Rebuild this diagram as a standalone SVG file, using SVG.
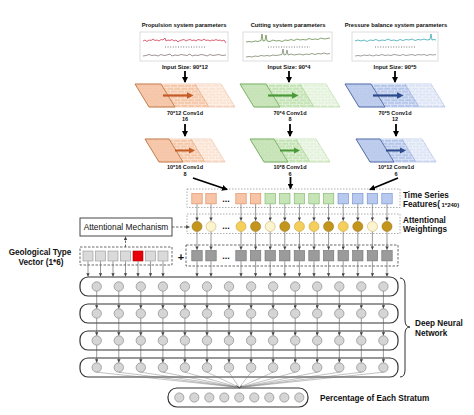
<svg xmlns="http://www.w3.org/2000/svg" width="474" height="415" viewBox="0 0 474 415">
<style>
text{font-family:"Liberation Sans",Arial,sans-serif;fill:#111}
.t1{font-size:5.8px;font-weight:bold;text-anchor:middle}
.t2{font-size:5.5px;font-weight:bold;text-anchor:middle}
.lb{font-size:8.2px;font-weight:bold}
.am{font-size:8.4px;text-anchor:middle}
.panel{fill:#fff;stroke:#d4d4d4;stroke-width:0.8}
.dots{stroke:#555;stroke-width:0.8;stroke-dasharray:1 1.6}
.wave{fill:none;stroke-width:0.8;stroke-linejoin:round}
.blk{stroke-width:2.6;fill:none}
.thin{stroke:#555;stroke-width:0.6;fill:none;marker-end:url(#a)}
.conv{stroke:#777;stroke-width:0.55;fill:none}
.sqo{fill:#f7c4a6;stroke:#d9895c;stroke-width:0.6}
.sqg{fill:#c7e4b6;stroke:#7cb466;stroke-width:0.6}
.sqb{fill:#b7c9ee;stroke:#6d8ac6;stroke-width:0.6}
.sqd{fill:#9b9b9b;stroke:#6f6f6f;stroke-width:0.6}
.sql{fill:#dadada;stroke:#959595;stroke-width:0.6}
.cd{fill:#c4951c;stroke:#9a7414;stroke-width:0.6}
.cy{fill:#f4cf5c;stroke:#c9a232;stroke-width:0.6}
.cc{fill:#fcf3cf;stroke:#c9b474;stroke-width:0.6}
.nn{fill:#d5d5d5;stroke:#8a8a8a;stroke-width:0.7}
.layer{fill:#fff;stroke:#333;stroke-width:1.2}
.dbox{fill:none;stroke:#999;stroke-width:0.8;stroke-dasharray:1.5 1.5}
.dash{fill:none;stroke:#444;stroke-width:0.8;stroke-dasharray:2.5 1.5}
</style>
<defs>
<marker id="a" markerWidth="3.4" markerHeight="3.4" refX="3.4" refY="1.7" orient="auto" markerUnits="userSpaceOnUse"><path d="M0,0L3.4,1.7L0,3.4z" fill="#444"/></marker>
<marker id="b" markerWidth="6" markerHeight="6" refX="5" refY="3" orient="auto" markerUnits="userSpaceOnUse"><path d="M0,0L6,3L0,6z" fill="#000"/></marker>
<pattern id="br" width="7" height="5.75" patternUnits="userSpaceOnUse"><path d="M0,0.3H7M0,3.2H7M0.3,0.3V3.2M3.8,3.2V5.75" stroke="#fff" stroke-width="0.6" fill="none" opacity="0.85"/></pattern>
</defs>
<rect width="474" height="415" fill="#fff"/>

<!-- input panels -->
<g id="propulsion">
<text class="t1" x="184" y="27">Propulsion system parameters</text>
<rect class="panel" x="140" y="32" width="88" height="29"/>
<path class="wave" stroke="#d23a52" d="M143,41 L145,40 L147,41.5 L149,40 L151,40.5 L153,39 L155,40.5 L157,40 L159,41 L161,39.5 L163,40 L165,38 L166,41 L168,40 L170,40.5 L172,39.5 L174,41 L176,40 L178,42 L180,40.5 L182,40 L184,39.5 L186,41 L188,40 L190,39.5 L192,40.5 L194,40 L196,41 L198,39.5 L200,40 L202,40.5 L204,39 L206,40.5 L208,40 L210,41 L212,40 L214,40.5 L216,39.5 L218,40.5 L220,40 L222,41 L224,40 L226,43"/>
<line class="dots" x1="165" y1="47" x2="205" y2="47"/>
<path class="wave" stroke="#8a7878" d="M143,56 L146,55.5 L149,54.5 L152,55.5 L155,55 L158,56 L161,54.5 L164,55.5 L167,55 L170,54 L172,56 L175,55 L178,55.5 L181,54.5 L184,55 L187,55.5 L190,54 L192,56 L195,55 L198,55.5 L201,54.5 L204,55 L207,56 L210,54.5 L213,55.5 L216,55 L219,54.5 L222,55.5 L226,55"/>
<text class="t1" x="185" y="68.7">Input Size: 90*12</text>
</g>
<g id="cutting">
<text class="t1" x="288" y="27">Cutting system parameters</text>
<rect class="panel" x="243" y="32" width="89" height="29"/>
<path class="wave" stroke="#6b8e4e" d="M246,42 L249,41.5 L252,42 L255,41 L258,41.5 L261,40.5 L262,34 L263,41 L265,40.5 L266,35 L267,41 L270,41.5 L273,40 L276,41 L279,40.5 L282,41.5 L285,40 L288,40.5 L291,39.5 L294,40.5 L297,39 L300,40 L303,39.5 L306,40 L309,38.5 L312,39.5 L315,39 L318,39.5 L321,38 L324,39 L327,38.5 L330,38"/>
<line class="dots" x1="268" y1="47" x2="310" y2="47"/>
<path class="wave" stroke="#7d8a6e" d="M246,57 L249,56.5 L252,57 L255,56 L258,56.5 L261,55.5 L264,56 L267,55.5 L270,56 L273,55 L276,55.5 L279,55 L282,54.5 L283,49 L284,55 L286,54.5 L287,50 L288,55 L291,54 L294,55 L297,54.5 L300,54 L303,55 L306,54 L309,54.5 L312,53.5 L315,54.5 L318,53.5 L321,54 L324,53 L327,54 L330,53.5"/>
<text class="t1" x="289" y="68.7">Input Size: 90*4</text>
</g>
<g id="pressure">
<text class="t1" x="396" y="27">Pressure balance system parameters</text>
<rect class="panel" x="352" y="32" width="86" height="29"/>
<path class="wave" stroke="#3aa8b4" d="M355,41 L358,40 L361,41 L364,40 L367,41.5 L370,40 L373,40.5 L376,39.5 L379,41 L382,40 L385,40.5 L388,39 L391,40.5 L394,40 L397,41 L400,39.5 L403,40.5 L406,39.5 L409,40 L412,39 L415,40.5 L418,39.5 L421,40 L424,39 L427,40 L430,39.5 L431,34 L432,40 L434,39.5 L436,40"/>
<line class="dots" x1="375" y1="47" x2="415" y2="47"/>
<path class="wave" stroke="#8a8a8a" d="M355,56 L358,55.5 L361,56 L364,55 L367,55.5 L370,55 L373,56 L376,55 L379,55.5 L382,54.5 L385,55.5 L388,55 L391,55.5 L394,54.5 L397,55 L400,55.5 L403,54.5 L406,55.5 L409,55 L412,54.5 L415,55.5 L418,54.5 L421,55 L424,54.5 L427,55.5 L430,54.5 L433,55 L436,54.5"/>
<text class="t1" x="395" y="68.7">Input Size: 90*5</text>
</g>

<!-- conv blocks row 1 -->
<g id="conv-o1" transform="translate(135,84)">
<polygon points="0,0 86,0 100,23 14,23" fill="#fbe3d2" stroke="#e7b494" stroke-width="0.6"/>
<polygon points="26,0 60,0 74,23 40,23" fill="#f5c6a6"/>
<polygon points="0,0 86,0 100,23 14,23" fill="url(#br)"/>
<polygon points="0,0 26,0 40,23 14,23" fill="#f1b088" fill-opacity="0.6" stroke="#b9703f" stroke-width="0.8"/>
<line x1="60" y1="0" x2="74" y2="23" stroke="#e0a07a" stroke-width="0.6"/>
<line x1="28" y1="11.5" x2="52" y2="11.5" stroke="#c55c26" stroke-width="2.2"/>
<polygon points="52,8.3 58.5,11.5 52,14.7" fill="#c55c26"/>
</g>
<g id="conv-g1" transform="translate(240,84)">
<polygon points="0,0 86,0 100,23 14,23" fill="#e3f2da" stroke="#a9d196" stroke-width="0.6"/>
<polygon points="26,0 60,0 74,23 40,23" fill="#c4e3b4"/>
<polygon points="0,0 86,0 100,23 14,23" fill="url(#br)"/>
<polygon points="0,0 26,0 40,23 14,23" fill="#b2d99f" fill-opacity="0.6" stroke="#6ea85a" stroke-width="0.8"/>
<line x1="60" y1="0" x2="74" y2="23" stroke="#9ccb86" stroke-width="0.6"/>
<line x1="28" y1="11.5" x2="52" y2="11.5" stroke="#4a9a38" stroke-width="2.2"/>
<polygon points="52,8.3 58.5,11.5 52,14.7" fill="#4a9a38"/>
</g>
<g id="conv-b1" transform="translate(345,84)">
<polygon points="0,0 86,0 100,23 14,23" fill="#dde5f5" stroke="#9fb2de" stroke-width="0.6"/>
<polygon points="26,0 60,0 74,23 40,23" fill="#b4c5ea"/>
<polygon points="0,0 86,0 100,23 14,23" fill="url(#br)"/>
<polygon points="0,0 26,0 40,23 14,23" fill="#a3b8e4" fill-opacity="0.6" stroke="#3f5a9c" stroke-width="0.8"/>
<line x1="60" y1="0" x2="74" y2="23" stroke="#8ea3d6" stroke-width="0.6"/>
<line x1="28" y1="11.5" x2="52" y2="11.5" stroke="#2d4a8c" stroke-width="2.2"/>
<polygon points="52,8.3 58.5,11.5 52,14.7" fill="#2d4a8c"/>
</g>
<g id="conv-labels1">
<text class="t2" x="185" y="115">70*12 Conv1d</text><text class="t2" x="185" y="121">16</text>
<text class="t2" x="290" y="115">70*4 Conv1d</text><text class="t2" x="290" y="121">8</text>
<text class="t2" x="395" y="115">70*5 Conv1d</text><text class="t2" x="395" y="121">12</text>
</g>

<!-- conv blocks row 2 -->
<g id="conv-o2" transform="translate(145,139)">
<polygon points="0,0 66,0 80,23 14,23" fill="#fbe3d2" stroke="#e7b494" stroke-width="0.6"/>
<polygon points="24,0 46,0 60,23 38,23" fill="#f5c6a6"/>
<polygon points="0,0 66,0 80,23 14,23" fill="url(#br)"/>
<polygon points="0,0 24,0 38,23 14,23" fill="#f1b088" fill-opacity="0.6" stroke="#b9703f" stroke-width="0.8"/>
<line x1="46" y1="0" x2="60" y2="23" stroke="#e0a07a" stroke-width="0.6"/>
<line x1="30" y1="11.5" x2="44" y2="11.5" stroke="#c55c26" stroke-width="2"/>
<polygon points="44,8.5 50,11.5 44,14.5" fill="#c55c26"/>
</g>
<g id="conv-g2" transform="translate(250,139)">
<polygon points="0,0 66,0 80,23 14,23" fill="#e3f2da" stroke="#a9d196" stroke-width="0.6"/>
<polygon points="24,0 46,0 60,23 38,23" fill="#c4e3b4"/>
<polygon points="0,0 66,0 80,23 14,23" fill="url(#br)"/>
<polygon points="0,0 24,0 38,23 14,23" fill="#b2d99f" fill-opacity="0.6" stroke="#6ea85a" stroke-width="0.8"/>
<line x1="46" y1="0" x2="60" y2="23" stroke="#9ccb86" stroke-width="0.6"/>
<line x1="30" y1="11.5" x2="44" y2="11.5" stroke="#4a9a38" stroke-width="2"/>
<polygon points="44,8.5 50,11.5 44,14.5" fill="#4a9a38"/>
</g>
<g id="conv-b2" transform="translate(356,139)">
<polygon points="0,0 66,0 80,23 14,23" fill="#dde5f5" stroke="#9fb2de" stroke-width="0.6"/>
<polygon points="24,0 46,0 60,23 38,23" fill="#b4c5ea"/>
<polygon points="0,0 66,0 80,23 14,23" fill="url(#br)"/>
<polygon points="0,0 24,0 38,23 14,23" fill="#a3b8e4" fill-opacity="0.6" stroke="#3f5a9c" stroke-width="0.8"/>
<line x1="46" y1="0" x2="60" y2="23" stroke="#8ea3d6" stroke-width="0.6"/>
<line x1="30" y1="11.5" x2="44" y2="11.5" stroke="#2d4a8c" stroke-width="2"/>
<polygon points="44,8.5 50,11.5 44,14.5" fill="#2d4a8c"/>
</g>
<g id="conv-labels2">
<text class="t2" x="185" y="168.5">10*16 Conv1d</text><text class="t2" x="185" y="176">8</text>
<text class="t2" x="290" y="168.5">10*8 Conv1d</text><text class="t2" x="290" y="176">6</text>
<text class="t2" x="396" y="168.5">10*12 Conv1d</text><text class="t2" x="396" y="176">6</text>
</g>

<!-- time series features -->
<g id="features">
<rect class="dbox" x="187" y="189" width="213" height="18.5"/>
<rect class="sqo" x="191.8" y="193.5" width="10.4" height="10.4"/>
<rect class="sqo" x="205.8" y="193.5" width="10.4" height="10.4"/>
<text x="226" y="202" font-size="9" font-weight="bold" text-anchor="middle">...</text>
<rect class="sqo" x="235.8" y="193.5" width="10.4" height="10.4"/>
<rect class="sqo" x="250.4" y="193.5" width="10.4" height="10.4"/>
<rect class="sqg" x="265" y="193.5" width="10.4" height="10.4"/>
<rect class="sqg" x="279.6" y="193.5" width="10.4" height="10.4"/>
<rect class="sqg" x="294.2" y="193.5" width="10.4" height="10.4"/>
<rect class="sqg" x="308.8" y="193.5" width="10.4" height="10.4"/>
<rect class="sqg" x="323.4" y="193.5" width="10.4" height="10.4"/>
<rect class="sqb" x="338" y="193.5" width="10.4" height="10.4"/>
<rect class="sqb" x="352.6" y="193.5" width="10.4" height="10.4"/>
<rect class="sqb" x="367.2" y="193.5" width="10.4" height="10.4"/>
<rect class="sqb" x="381.8" y="193.5" width="10.4" height="10.4"/>
<text class="lb" x="403" y="198">Time Series</text>
<text class="lb" x="403" y="206.5">Features(<tspan font-size="6"> 1*240)</tspan></text>
</g>

<!-- attentional weightings -->
<g id="weightings">
<rect class="dbox" x="187" y="214" width="213" height="19.5"/>
<circle class="cd" cx="197" cy="226.5" r="5"/>
<circle class="cc" cx="211" cy="226.5" r="5"/>
<text x="226" y="229" font-size="9" font-weight="bold" text-anchor="middle">...</text>
<circle class="cy" cx="241" cy="226.5" r="5"/>
<circle class="cd" cx="255.6" cy="226.5" r="5"/>
<circle class="cc" cx="270.2" cy="226.5" r="5"/>
<circle class="cd" cx="284.8" cy="226.5" r="5"/>
<circle class="cy" cx="299.4" cy="226.5" r="5"/>
<circle class="cy" cx="314" cy="226.5" r="5"/>
<circle class="cd" cx="328.6" cy="226.5" r="5"/>
<circle class="cy" cx="343.2" cy="226.5" r="5"/>
<circle class="cd" cx="357.8" cy="226.5" r="5"/>
<circle class="cc" cx="372.4" cy="226.5" r="5"/>
<circle class="cd" cx="387" cy="226.5" r="5"/>
<text class="lb" x="403" y="223">Attentional</text>
<text class="lb" x="403" y="232">Weightings</text>
</g>

<g id="attention-mechanism">
<rect x="80" y="218" width="92" height="18" fill="#fff" stroke="#333" stroke-width="0.9"/>
<text class="am" x="126" y="230">Attentional Mechanism</text>
</g>

<g id="geo-vector">
<text class="lb" x="40" y="254.5" text-anchor="middle">Geological Type</text>
<text class="lb" x="41" y="264.5" text-anchor="middle">Vector (1*6)</text>
<rect class="dash" x="80" y="247" width="92" height="18"/>
<rect class="sql" x="83" y="251" width="10" height="10"/>
<rect class="sql" x="95.5" y="251" width="10" height="10"/>
<rect class="sql" x="108" y="251" width="10" height="10"/>
<rect class="sql" x="120.5" y="251" width="10" height="10"/>
<rect x="133" y="251" width="10" height="10" fill="#e8000b" stroke="#a00" stroke-width="0.6"/>
<rect class="sql" x="145.5" y="251" width="10" height="10"/>
<rect class="sql" x="158" y="251" width="10" height="10"/>
</g>
<text x="181" y="260.5" font-size="11" font-weight="bold" text-anchor="middle">+</text>

<g id="combined">
<rect class="dash" x="186" y="245" width="212" height="21"/>
<rect class="sqd" x="191.8" y="250.5" width="10.4" height="10.4"/>
<rect class="sqd" x="205.8" y="250.5" width="10.4" height="10.4"/>
<text x="226" y="259" font-size="9" font-weight="bold" text-anchor="middle">...</text>
<rect class="sqd" x="235.8" y="250.5" width="10.4" height="10.4"/>
<rect class="sqd" x="250.4" y="250.5" width="10.4" height="10.4"/>
<rect class="sqd" x="265" y="250.5" width="10.4" height="10.4"/>
<rect class="sqd" x="279.6" y="250.5" width="10.4" height="10.4"/>
<rect class="sqd" x="294.2" y="250.5" width="10.4" height="10.4"/>
<rect class="sqd" x="308.8" y="250.5" width="10.4" height="10.4"/>
<rect class="sqd" x="323.4" y="250.5" width="10.4" height="10.4"/>
<rect class="sqd" x="338" y="250.5" width="10.4" height="10.4"/>
<rect class="sqd" x="352.6" y="250.5" width="10.4" height="10.4"/>
<rect class="sqd" x="367.2" y="250.5" width="10.4" height="10.4"/>
<rect class="sqd" x="381.8" y="250.5" width="10.4" height="10.4"/>
</g>

<!-- DNN layers -->
<g id="layer1">
<rect class="layer" x="80" y="277" width="318" height="19" rx="8"/>
<circle class="nn" cx="96.7" cy="286.5" r="4.7"/><circle class="nn" cx="118.8" cy="286.5" r="4.7"/><circle class="nn" cx="140.8" cy="286.5" r="4.7"/><circle class="nn" cx="162.9" cy="286.5" r="4.7"/><circle class="nn" cx="184.9" cy="286.5" r="4.7"/><circle class="nn" cx="207" cy="286.5" r="4.7"/><circle class="nn" cx="229" cy="286.5" r="4.7"/><circle class="nn" cx="251.1" cy="286.5" r="4.7"/><circle class="nn" cx="273.1" cy="286.5" r="4.7"/><circle class="nn" cx="295.2" cy="286.5" r="4.7"/><circle class="nn" cx="317.2" cy="286.5" r="4.7"/><circle class="nn" cx="339.3" cy="286.5" r="4.7"/><circle class="nn" cx="361.3" cy="286.5" r="4.7"/><circle class="nn" cx="383.4" cy="286.5" r="4.7"/>
</g>
<g id="layer2">
<rect class="layer" x="80" y="304" width="318" height="19" rx="8"/>
<circle class="nn" cx="96.7" cy="313.5" r="4.7"/><circle class="nn" cx="118.8" cy="313.5" r="4.7"/><circle class="nn" cx="140.8" cy="313.5" r="4.7"/><circle class="nn" cx="162.9" cy="313.5" r="4.7"/><circle class="nn" cx="184.9" cy="313.5" r="4.7"/><circle class="nn" cx="207" cy="313.5" r="4.7"/><circle class="nn" cx="229" cy="313.5" r="4.7"/><circle class="nn" cx="251.1" cy="313.5" r="4.7"/><circle class="nn" cx="273.1" cy="313.5" r="4.7"/><circle class="nn" cx="295.2" cy="313.5" r="4.7"/><circle class="nn" cx="317.2" cy="313.5" r="4.7"/><circle class="nn" cx="339.3" cy="313.5" r="4.7"/><circle class="nn" cx="361.3" cy="313.5" r="4.7"/><circle class="nn" cx="383.4" cy="313.5" r="4.7"/>
</g>
<g id="layer3">
<rect class="layer" x="80" y="331" width="318" height="19" rx="8"/>
<circle class="nn" cx="96.7" cy="340.5" r="4.7"/><circle class="nn" cx="118.8" cy="340.5" r="4.7"/><circle class="nn" cx="140.8" cy="340.5" r="4.7"/><circle class="nn" cx="162.9" cy="340.5" r="4.7"/><circle class="nn" cx="184.9" cy="340.5" r="4.7"/><circle class="nn" cx="207" cy="340.5" r="4.7"/><circle class="nn" cx="229" cy="340.5" r="4.7"/><circle class="nn" cx="251.1" cy="340.5" r="4.7"/><circle class="nn" cx="273.1" cy="340.5" r="4.7"/><circle class="nn" cx="295.2" cy="340.5" r="4.7"/><circle class="nn" cx="317.2" cy="340.5" r="4.7"/><circle class="nn" cx="339.3" cy="340.5" r="4.7"/><circle class="nn" cx="361.3" cy="340.5" r="4.7"/><circle class="nn" cx="383.4" cy="340.5" r="4.7"/>
</g>
<g id="layer4">
<rect class="layer" x="80" y="358" width="318" height="19" rx="8"/>
<circle class="nn" cx="96.7" cy="367.5" r="4.7"/><circle class="nn" cx="118.8" cy="367.5" r="4.7"/><circle class="nn" cx="140.8" cy="367.5" r="4.7"/><circle class="nn" cx="162.9" cy="367.5" r="4.7"/><circle class="nn" cx="184.9" cy="367.5" r="4.7"/><circle class="nn" cx="207" cy="367.5" r="4.7"/><circle class="nn" cx="229" cy="367.5" r="4.7"/><circle class="nn" cx="251.1" cy="367.5" r="4.7"/><circle class="nn" cx="273.1" cy="367.5" r="4.7"/><circle class="nn" cx="295.2" cy="367.5" r="4.7"/><circle class="nn" cx="317.2" cy="367.5" r="4.7"/><circle class="nn" cx="339.3" cy="367.5" r="4.7"/><circle class="nn" cx="361.3" cy="367.5" r="4.7"/><circle class="nn" cx="383.4" cy="367.5" r="4.7"/>
</g>
<g id="dnn-label">
<path d="M400,278 Q405,278 405,285 L405,320 Q405,327 410,327 Q405,327 405,334 L405,370 Q405,377 400,377" fill="none" stroke="#333" stroke-width="1"/>
<text class="lb" x="415" y="326">Deep Neural</text>
<text class="lb" x="415" y="336">Network</text>
</g>
<g id="output">
<rect class="layer" x="168" y="388" width="140" height="19" rx="9" stroke-width="0.9"/>
<circle class="nn" cx="179.3" cy="397.5" r="4.6"/><circle class="nn" cx="194.3" cy="397.5" r="4.6"/><circle class="nn" cx="209.3" cy="397.5" r="4.6"/><circle class="nn" cx="224.3" cy="397.5" r="4.6"/><circle class="nn" cx="239.3" cy="397.5" r="4.6"/><circle class="nn" cx="254.3" cy="397.5" r="4.6"/><circle class="nn" cx="269.3" cy="397.5" r="4.6"/><circle class="nn" cx="284.3" cy="397.5" r="4.6"/><circle class="nn" cx="299.3" cy="397.5" r="4.6"/>
<text class="lb" x="320" y="401">Percentage of Each Stratum</text>
</g>

<!-- connectors -->
<g id="connectors">
<g stroke="#000" stroke-width="1.8" marker-end="url(#b)">
<line x1="185" y1="71" x2="185" y2="82"/>
<line x1="289" y1="71" x2="289" y2="82"/>
<line x1="395" y1="71" x2="395" y2="82"/>
<line x1="185" y1="124" x2="185" y2="136"/>
<line x1="290" y1="124" x2="290" y2="136"/>
<line x1="396" y1="124" x2="396" y2="136"/>
<line x1="193" y1="178" x2="227" y2="189.5"/>
<line x1="290.5" y1="177" x2="290.5" y2="188.5"/>
<line x1="398" y1="178" x2="370" y2="189.5"/>
</g>
<g class="thin">
<line x1="197" y1="204.2" x2="197" y2="220.8"/><line x1="211" y1="204.2" x2="211" y2="220.8"/><line x1="241" y1="204.2" x2="241" y2="220.8"/><line x1="255.6" y1="204.2" x2="255.6" y2="220.8"/><line x1="270.2" y1="204.2" x2="270.2" y2="220.8"/><line x1="284.8" y1="204.2" x2="284.8" y2="220.8"/><line x1="299.4" y1="204.2" x2="299.4" y2="220.8"/><line x1="314" y1="204.2" x2="314" y2="220.8"/><line x1="328.6" y1="204.2" x2="328.6" y2="220.8"/><line x1="343.2" y1="204.2" x2="343.2" y2="220.8"/><line x1="357.8" y1="204.2" x2="357.8" y2="220.8"/><line x1="372.4" y1="204.2" x2="372.4" y2="220.8"/><line x1="387" y1="204.2" x2="387" y2="220.8"/>
<line x1="197" y1="231.8" x2="197" y2="249.8"/><line x1="211" y1="231.8" x2="211" y2="249.8"/><line x1="241" y1="231.8" x2="241" y2="249.8"/><line x1="255.6" y1="231.8" x2="255.6" y2="249.8"/><line x1="270.2" y1="231.8" x2="270.2" y2="249.8"/><line x1="284.8" y1="231.8" x2="284.8" y2="249.8"/><line x1="299.4" y1="231.8" x2="299.4" y2="249.8"/><line x1="314" y1="231.8" x2="314" y2="249.8"/><line x1="328.6" y1="231.8" x2="328.6" y2="249.8"/><line x1="343.2" y1="231.8" x2="343.2" y2="249.8"/><line x1="357.8" y1="231.8" x2="357.8" y2="249.8"/><line x1="372.4" y1="231.8" x2="372.4" y2="249.8"/><line x1="387" y1="231.8" x2="387" y2="249.8"/>
<line x1="88" y1="261.3" x2="88" y2="276.6"/><line x1="100.5" y1="261.3" x2="100.5" y2="276.6"/><line x1="113" y1="261.3" x2="113" y2="276.6"/><line x1="125.5" y1="261.3" x2="125.5" y2="276.6"/><line x1="138" y1="261.3" x2="138" y2="276.6"/><line x1="150.5" y1="261.3" x2="150.5" y2="276.6"/><line x1="163" y1="261.3" x2="163" y2="276.6"/>
<line x1="197" y1="261.3" x2="197" y2="276.6"/><line x1="211" y1="261.3" x2="211" y2="276.6"/><line x1="241" y1="261.3" x2="241" y2="276.6"/><line x1="255.6" y1="261.3" x2="255.6" y2="276.6"/><line x1="270.2" y1="261.3" x2="270.2" y2="276.6"/><line x1="284.8" y1="261.3" x2="284.8" y2="276.6"/><line x1="299.4" y1="261.3" x2="299.4" y2="276.6"/><line x1="314" y1="261.3" x2="314" y2="276.6"/><line x1="328.6" y1="261.3" x2="328.6" y2="276.6"/><line x1="343.2" y1="261.3" x2="343.2" y2="276.6"/><line x1="357.8" y1="261.3" x2="357.8" y2="276.6"/><line x1="372.4" y1="261.3" x2="372.4" y2="276.6"/><line x1="387" y1="261.3" x2="387" y2="276.6"/>
<line x1="96.7" y1="291.3" x2="96.7" y2="308.6"/><line x1="118.8" y1="291.3" x2="118.8" y2="308.6"/><line x1="140.8" y1="291.3" x2="140.8" y2="308.6"/><line x1="162.9" y1="291.3" x2="162.9" y2="308.6"/><line x1="184.9" y1="291.3" x2="184.9" y2="308.6"/><line x1="207" y1="291.3" x2="207" y2="308.6"/><line x1="229" y1="291.3" x2="229" y2="308.6"/><line x1="251.1" y1="291.3" x2="251.1" y2="308.6"/><line x1="273.1" y1="291.3" x2="273.1" y2="308.6"/><line x1="295.2" y1="291.3" x2="295.2" y2="308.6"/><line x1="317.2" y1="291.3" x2="317.2" y2="308.6"/><line x1="339.3" y1="291.3" x2="339.3" y2="308.6"/><line x1="361.3" y1="291.3" x2="361.3" y2="308.6"/><line x1="383.4" y1="291.3" x2="383.4" y2="308.6"/>
<line x1="96.7" y1="318.3" x2="96.7" y2="335.6"/><line x1="118.8" y1="318.3" x2="118.8" y2="335.6"/><line x1="140.8" y1="318.3" x2="140.8" y2="335.6"/><line x1="162.9" y1="318.3" x2="162.9" y2="335.6"/><line x1="184.9" y1="318.3" x2="184.9" y2="335.6"/><line x1="207" y1="318.3" x2="207" y2="335.6"/><line x1="229" y1="318.3" x2="229" y2="335.6"/><line x1="251.1" y1="318.3" x2="251.1" y2="335.6"/><line x1="273.1" y1="318.3" x2="273.1" y2="335.6"/><line x1="295.2" y1="318.3" x2="295.2" y2="335.6"/><line x1="317.2" y1="318.3" x2="317.2" y2="335.6"/><line x1="339.3" y1="318.3" x2="339.3" y2="335.6"/><line x1="361.3" y1="318.3" x2="361.3" y2="335.6"/><line x1="383.4" y1="318.3" x2="383.4" y2="335.6"/>
<line x1="96.7" y1="345.3" x2="96.7" y2="362.6"/><line x1="118.8" y1="345.3" x2="118.8" y2="362.6"/><line x1="140.8" y1="345.3" x2="140.8" y2="362.6"/><line x1="162.9" y1="345.3" x2="162.9" y2="362.6"/><line x1="184.9" y1="345.3" x2="184.9" y2="362.6"/><line x1="207" y1="345.3" x2="207" y2="362.6"/><line x1="229" y1="345.3" x2="229" y2="362.6"/><line x1="251.1" y1="345.3" x2="251.1" y2="362.6"/><line x1="273.1" y1="345.3" x2="273.1" y2="362.6"/><line x1="295.2" y1="345.3" x2="295.2" y2="362.6"/><line x1="317.2" y1="345.3" x2="317.2" y2="362.6"/><line x1="339.3" y1="345.3" x2="339.3" y2="362.6"/><line x1="361.3" y1="345.3" x2="361.3" y2="362.6"/><line x1="383.4" y1="345.3" x2="383.4" y2="362.6"/>
</g>
<g stroke="#777" stroke-width="0.45" fill="none">
<line x1="96.7" y1="372.2" x2="239.3" y2="387.5"/><line x1="118.8" y1="372.2" x2="239.3" y2="387.5"/><line x1="140.8" y1="372.2" x2="239.3" y2="387.5"/><line x1="162.9" y1="372.2" x2="239.3" y2="387.5"/><line x1="184.9" y1="372.2" x2="239.3" y2="387.5"/><line x1="207" y1="372.2" x2="239.3" y2="387.5"/><line x1="229" y1="372.2" x2="239.3" y2="387.5"/><line x1="251.1" y1="372.2" x2="239.3" y2="387.5"/><line x1="273.1" y1="372.2" x2="239.3" y2="387.5"/><line x1="295.2" y1="372.2" x2="239.3" y2="387.5"/><line x1="317.2" y1="372.2" x2="239.3" y2="387.5"/><line x1="339.3" y1="372.2" x2="239.3" y2="387.5"/><line x1="361.3" y1="372.2" x2="239.3" y2="387.5"/><line x1="383.4" y1="372.2" x2="239.3" y2="387.5"/>
</g>
<path d="M236.5,385.5 L239.3,388 L242.1,385.5" fill="none" stroke="#333" stroke-width="0.8"/>
<line class="dash" x1="172" y1="227" x2="189.5" y2="227" marker-end="url(#a)"/>
<line class="dash" x1="125.5" y1="247" x2="125.5" y2="236.5" marker-end="url(#a)"/>
</g>
</svg>
